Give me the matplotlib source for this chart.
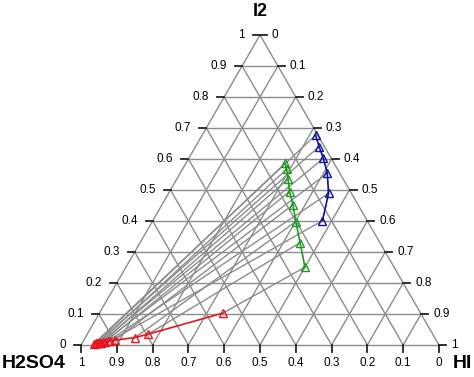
import numpy as np
import matplotlib
matplotlib.use("Agg")
from matplotlib import pyplot as plt

plt.rcParams['font.family'] = ['Liberation Sans', 'DejaVu Sans']

# compositions as (HI, I2) mole fractions, H2SO4 = 1 - HI - I2
green_hi = [0.277, 0.291, 0.311, 0.335, 0.366, 0.401, 0.447, 0.500]
green_i2 = [0.586, 0.567, 0.535, 0.495, 0.452, 0.398, 0.330, 0.251]
blue_hi = [0.317, 0.345, 0.376, 0.411, 0.447, 0.474]
blue_i2 = [0.677, 0.640, 0.602, 0.554, 0.489, 0.401]

# H2SO4-rich phase in equilibrium with each green / blue point
red_g_hi = [0.038, 0.046, 0.053, 0.062, 0.087, 0.139, 0.170, 0.345]
red_g_i2 = [0.0055, 0.0065, 0.0077, 0.0097, 0.016, 0.024, 0.035, 0.103]
red_b_hi = [0.034, 0.042, 0.050, 0.057, 0.069, 0.075]
red_b_i2 = [0.0048, 0.006, 0.007, 0.0087, 0.012, 0.013]

ticks = np.round(np.arange(0, 1.01, 0.1), 1)
tick_txt = ['0', '0.1', '0.2', '0.3', '0.4', '0.5', '0.6', '0.7', '0.8', '0.9', '1']

H = np.sqrt(3) / 2


def xy(hi, i2):
    hi = np.asarray(hi)
    i2 = np.asarray(i2)
    return hi + 0.5 * i2, i2 * H


fig = plt.figure(figsize=(4.74, 3.77), dpi=100)
ax = fig.add_axes([0, 0, 1, 1])
ax.set_xlim(-81 / 358, (474 - 81) / 358)
ax.set_ylim(-32 / 358, (377 - 32) / 358)
ax.axis('off')

grid_c = '#8c8c8c'
# grid lines parallel to each side
for t in ticks:
    # constant I2
    x, y = xy([0, 1 - t], [t, t])
    ax.plot(x, y, color=grid_c, lw=1.0, zorder=1)
    # constant HI
    x, y = xy([t, t], [0, 1 - t])
    ax.plot(x, y, color=grid_c, lw=1.0, zorder=1)
    # constant H2SO4
    x, y = xy([1 - t, 0], [0, 1 - t])
    ax.plot(x, y, color=grid_c, lw=1.0, zorder=1)

tl = 7 / 358
for t, s in zip(ticks, tick_txt):
    # left side (I2)
    x, y = xy(0, t)
    ax.plot([x - tl, x], [y, y], color='#222222', lw=1.3, zorder=2)
    ax.text(x - tl - 8 / 358, y, s, ha='right', va='center', fontsize=8.5)
    # right side
    x, y = xy(1 - t, t)
    ax.plot([x, x + tl], [y, y], color='#222222', lw=1.3, zorder=2)
    ax.text(x + tl + 5 / 358, y, tick_txt[10 - int(round(t * 10))],
            ha='left', va='center', fontsize=8.5)
    # bottom
    x, y = xy(t, 0)
    ax.plot([x, x], [0, -tl], color='#222222', lw=1.3, zorder=2)
    ax.text(x, -18 / 358, tick_txt[10 - int(round(t * 10))],
            ha='center', va='center', fontsize=8.5)

# tie lines
for rh, ri, gh, gi in zip(red_g_hi, red_g_i2, green_hi, green_i2):
    x, y = xy([rh, gh], [ri, gi])
    ax.plot(x, y, color=grid_c, lw=1.0, zorder=3)
for rh, ri, bh, bi in zip(red_b_hi, red_b_i2, blue_hi, blue_i2):
    x, y = xy([rh, bh], [ri, bi])
    ax.plot(x, y, color=grid_c, lw=1.0, zorder=3)

mk = dict(marker='^', ms=6, mfc='none', mew=1.0, lw=1.2, zorder=4)
red_hi = np.array(red_g_hi + red_b_hi)
red_i2 = np.array(red_g_i2 + red_b_i2)
order = np.argsort(red_hi)
x, y = xy(red_hi[order], red_i2[order])
ax.plot(x, y, color='#e8141c', **mk)
x, y = xy(green_hi, green_i2)
ax.plot(x, y, color='#1e9a1e', **mk)
x, y = xy(blue_hi, blue_i2)
ax.plot(x, y, color='#10109a', **mk)

ax.text(0.5, (345 - 12) / 358, 'I2', ha='center', va='center',
        fontsize=13, fontweight='bold')
ax.text((34 - 81) / 358, -19 / 358, 'H2SO4', ha='center', va='center',
        fontsize=14, fontweight='bold')
ax.text((462 - 81) / 358, -19 / 358, 'HI', ha='center', va='center',
        fontsize=14, fontweight='bold')

fig.savefig('out.png', dpi=100)
